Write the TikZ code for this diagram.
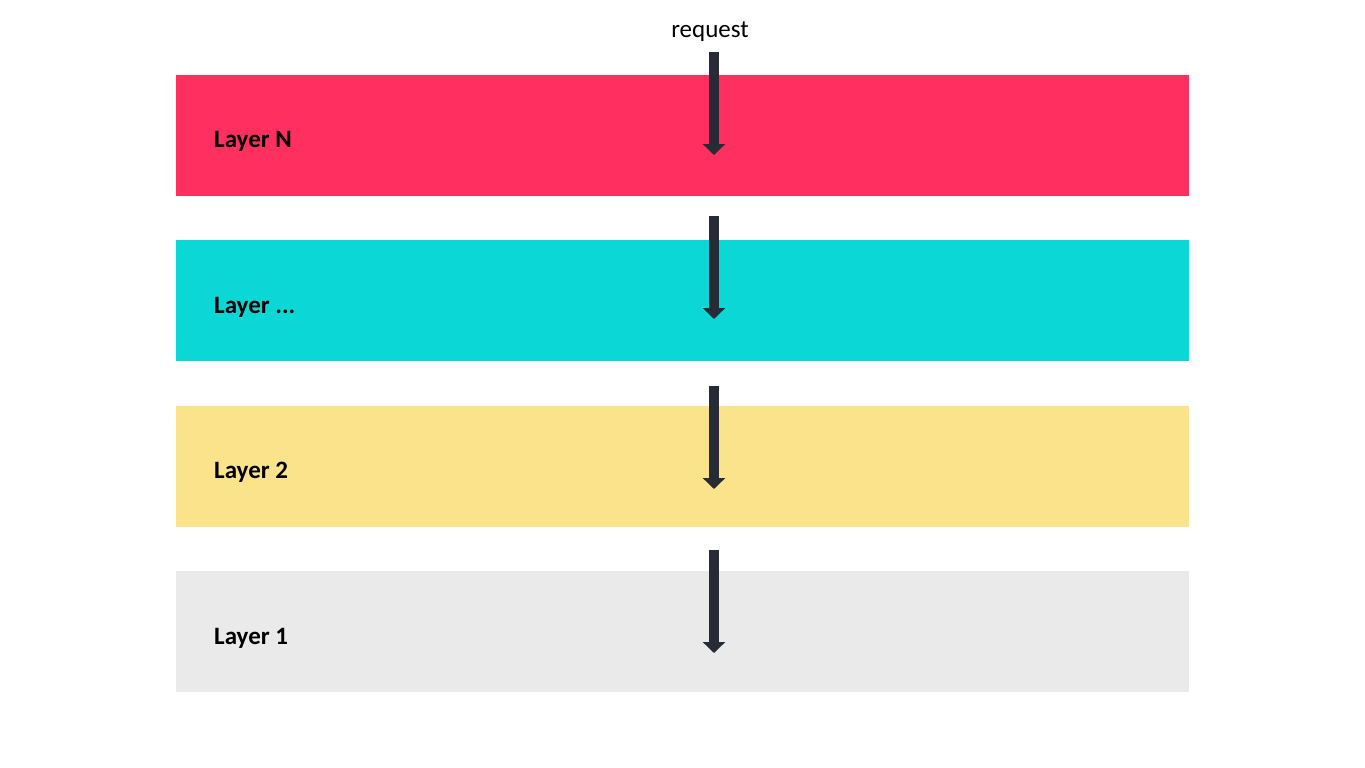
\documentclass[tikz,border=0pt]{standalone}
\usepackage{fontspec}
\setmainfont{Carlito}
\usetikzlibrary{arrows.meta}
\definecolor{lred}{HTML}{FF3060}
\definecolor{lcyan}{HTML}{0BD8D6}
\definecolor{lyellow}{HTML}{FBE38B}
\definecolor{lgrey}{HTML}{EAEAEA}
\definecolor{arrowc}{HTML}{262B36}
\begin{document}
\begin{tikzpicture}[x=1pt,y=-1pt,
  band/.style={draw=none,minimum width=1013pt,minimum height=121pt,inner sep=0pt,anchor=north west},
  lab/.style={font=\fontsize{25}{28}\selectfont\bfseries,anchor=west,inner sep=0pt},
  flow/.style={draw=arrowc,line width=10pt,-{Triangle[width=22pt,length=11pt]}}]
\useasboundingbox (0,0) rectangle (1365,768);
\node[band,fill=lred] (b4) at (176,75) {};
\node[band,fill=lcyan] (b3) at (176,240) {};
\node[band,fill=lyellow] (b2) at (176,406) {};
\node[band,fill=lgrey] (b1) at (176,571) {};
\node[lab] (l4) at (214,141.5) {Layer N};
\node[lab] (l3) at (214,307.5) {Layer ...};
\node[lab] (l2) at (214,472.5) {Layer 2};
\node[lab] (l1) at (214,638.5) {Layer 1};
\node[font=\fontsize{25}{28}\selectfont,inner sep=0pt] (req) at (710,32) {request};
\coordinate (s4) at (714,52); \coordinate (e4) at (714,155);
\coordinate (s3) at (714,216); \coordinate (e3) at (714,319);
\coordinate (s2) at (714,386); \coordinate (e2) at (714,489);
\coordinate (s1) at (714,550); \coordinate (e1) at (714,653);
\draw[flow] (s4) -- (e4);
\draw[flow] (s3) -- (e3);
\draw[flow] (s2) -- (e2);
\draw[flow] (s1) -- (e1);
\end{tikzpicture}
\end{document}
